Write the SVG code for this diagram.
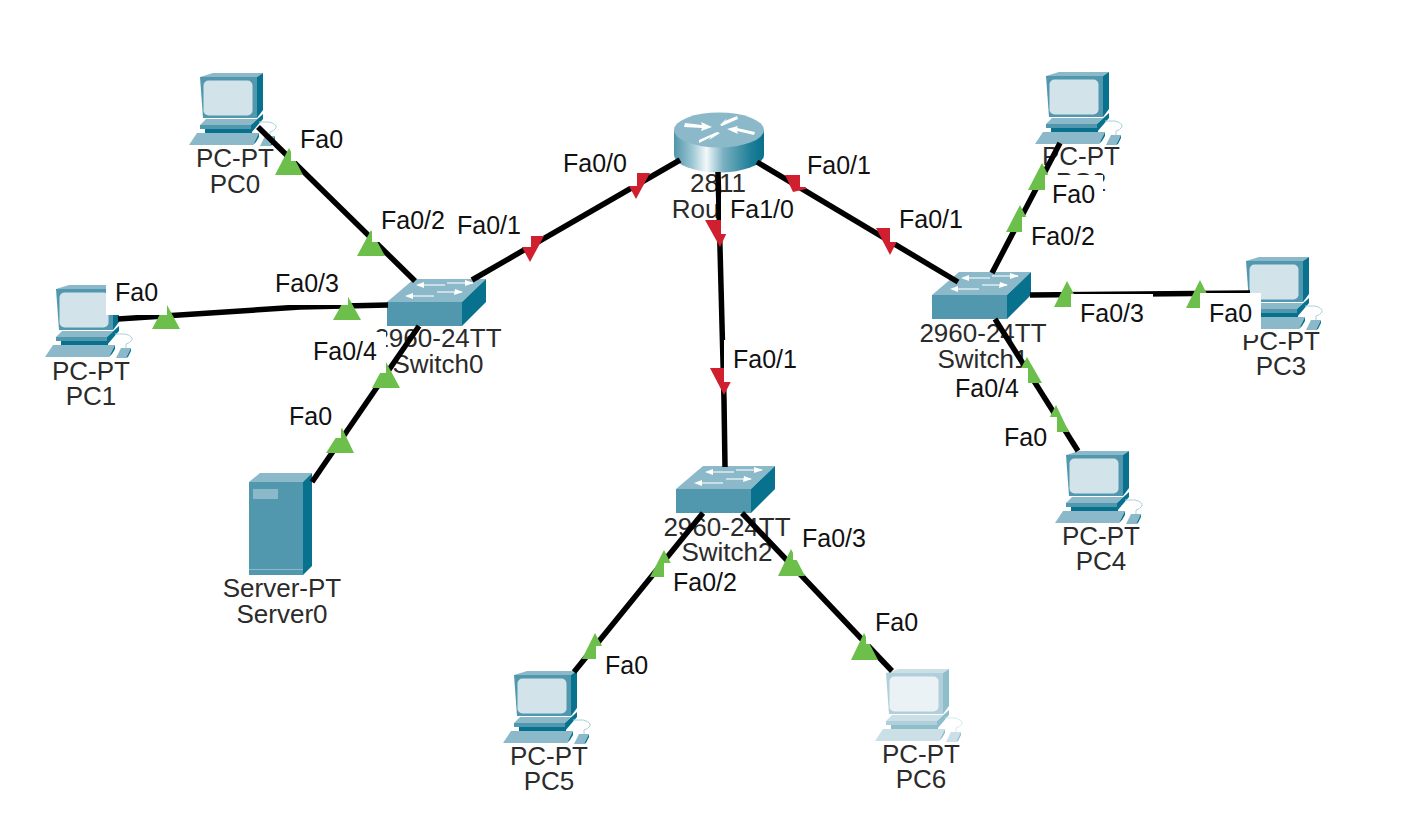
<svg xmlns="http://www.w3.org/2000/svg" xmlns:xlink="http://www.w3.org/1999/xlink" width="1420" height="832" viewBox="0 0 1420 832">
<style>
text{font-family:"Liberation Sans",Arial,sans-serif}
.n{fill:#2b2b2b;text-anchor:middle;font-size:26px}
.p{fill:#111;font-size:25px}
.b{fill:#fff}
.l{fill:none;stroke:#000;stroke-width:5.5}
.g{fill:#6cbf4b}
.r{fill:#d02030}
.f{fill:#5197ae}
.t{fill:#8cb9c9}
.d{fill:#08718e}
</style>
<defs>
<linearGradient id="cyl" x1="0" x2="1" y1="0" y2="0">
<stop offset="0" stop-color="#4f95aa"/><stop offset=".2" stop-color="#9cc6d2"/><stop offset=".36" stop-color="#f2f8fa"/><stop offset=".55" stop-color="#79b0c1"/><stop offset=".85" stop-color="#1f7f98"/><stop offset="1" stop-color="#07708c"/>
</linearGradient>
<g id="pc">
<path class="t" d="M11 4 24 0H74L68 4Z"/>
<path class="f" d="M11 4H68V45H14Z"/>
<path class="d" d="M68 4 74 0V37L68 45Z"/>
<rect x="14.500" y="7.500" width="49" height="35" rx="5" fill="#d3e3ea"/>
<path class="t" d="M11 52 17 46H68L74 41 62 52Z"/>
<rect class="f" x="11" y="52" width="51" height="4"/>
<rect class="d" x="16" y="56" width="47" height="4"/>
<path class="d" d="M62 52 74 41V46L62 60Z"/>
<path class="t" d="M0 72 8 60H70L64 72Z"/>
<path class="d" d="M64 72 70 60V64L67 69Z"/>
<path class="t" d="M71 73 76 63H86L81 73Z"/>
<path class="d" d="M81 73 86 63V66L83 72Z"/>
<path d="M70 49H80Q88 51 87 55 85 58 81 59V63" fill="none" stroke="#a8d0dc" stroke-width="1"/>
</g>
<g id="sw">
<path class="t" d="M0 23 27 0H99L75 23Z"/>
<rect class="f" x="0" y="23" width="75" height="24"/>
<path class="d" d="M75 23 99 0V23L75 47Z"/>
<path d="M31 6H58M86 4H60M20 17H47M75 13H50" stroke="#dcebf0" stroke-width="1.300"/>
<path d="M37 3V9L29 6ZM78 1 87 4 78 7ZM26 14V20L18 17ZM68 10 76 13 67 16Z" fill="#fff"/>
</g>
</defs>

<g id="PC0"><use xlink:href="#pc" href="#pc" x="189" y="73"/><text class="n" x="235" y="167">PC-PT</text><text class="n" x="235" y="193">PC0</text></g>
<g id="PC1"><use xlink:href="#pc" href="#pc" x="45" y="285"/><text class="n" x="91" y="380">PC-PT</text><text class="n" x="91" y="405">PC1</text></g>
<g id="Server0">
<path class="t" d="M249 482 260 473H312L303 482Z"/>
<rect class="f" x="249" y="482" width="54" height="93"/>
<path class="d" d="M303 482 312 473V566L303 575Z"/>
<rect class="t" x="253" y="489" width="25" height="10"/>
<rect x="249" y="569" width="54" height="1" fill="#8cb9c9"/>
<text class="n" x="282" y="597">Server-PT</text><text class="n" x="282" y="623">Server0</text></g>
<g id="Switch0"><use xlink:href="#sw" href="#sw" x="387" y="279"/><text class="n" x="438" y="347">2960-24TT</text><text class="n" x="438" y="373">Switch0</text></g>
<g id="Router0">
<path d="M674 130V155A45 17.500 0 0 0 764 155V130Z" fill="url(#cyl)"/>
<ellipse cx="719" cy="130" rx="45" ry="17.500" fill="#8cb9c9"/>
<path d="M685 123 702 125 701 122 712 127 701 131 702 128 684 127ZM754 135 737 131 738 134 727 129 738 126 737 128 755 132ZM737 116 725 121 727 118 720 125 722 126 738 119ZM699 143 711 137 709 140 720 133 717 132 699 140Z" fill="#fff"/>
<text class="n" x="718" y="192">2811</text><text class="n" x="718" y="218">Router0</text></g>
<g id="Switch1"><use xlink:href="#sw" href="#sw" x="932" y="272"/><text class="n" x="983" y="342">2960-24TT</text><text class="n" x="983" y="368">Switch1</text></g>
<g id="Switch2"><use xlink:href="#sw" href="#sw" x="676" y="466"/><text class="n" x="727" y="536">2960-24TT</text><text class="n" x="727" y="561">Switch2</text></g>
<g id="PC2"><use xlink:href="#pc" href="#pc" x="1035" y="72"/><text class="n" x="1081" y="165">PC-PT</text><text class="n" x="1081" y="191">PC2</text></g>
<g id="PC3"><use xlink:href="#pc" href="#pc" x="1235" y="257"/><text class="n" x="1281" y="350">PC-PT</text><text class="n" x="1281" y="375">PC3</text></g>
<g id="PC4"><use xlink:href="#pc" href="#pc" x="1055" y="451"/><text class="n" x="1101" y="545">PC-PT</text><text class="n" x="1101" y="570">PC4</text></g>
<g id="PC5"><use xlink:href="#pc" href="#pc" x="503" y="671"/><text class="n" x="549" y="765">PC-PT</text><text class="n" x="549" y="790">PC5</text></g>
<g id="PC6"><use xlink:href="#pc" href="#pc" x="875" y="669" opacity=".45"/><text class="n" x="921" y="763">PC-PT</text><text class="n" x="921" y="788">PC6</text></g>

<g id="connectors">
<path class="l" d="M258 127 415 281"/>
<path class="l" d="M118 319 300 307 388 305"/>
<path class="l" d="M312 482 419 326"/>
<path class="l" d="M472 280 680 160"/>
<path class="l" d="M757 162 958 282"/>
<path class="l" d="M718 172 724 400 725 467"/>
<path class="l" d="M992 273 1060 143"/>
<path class="l" d="M1030 295 1250 293"/>
<path class="l" d="M995 319 1078 451"/>
<path class="l" d="M703 513 574 672"/>
<path class="l" d="M742 513 892 671"/>
<g id="port-status">
<polygon class="g" points="289,148 275,175 303,175"/>
<polygon class="g" points="371,230 357,256 385,256"/>
<polygon class="g" points="166,303 152,329 180,329"/>
<polygon class="g" points="347,295 333,320 361,320"/>
<polygon class="g" points="386,362 372,388 400,388"/>
<polygon class="g" points="342,428 326,453 354,453"/>
<polygon class="g" points="1020,205 1006,232 1034,232"/>
<polygon class="g" points="1042,163 1028,190 1056,190"/>
<polygon class="g" points="1067,281 1054,307 1081,307"/>
<polygon class="g" points="1200,280 1186,308 1214,308"/>
<polygon class="g" points="1027,357 1013,383 1042,383"/>
<polygon class="g" points="1056,405 1042,432 1069,432"/>
<polygon class="g" points="664,550 650,577 678,577"/>
<polygon class="g" points="595,633 582,659 609,659"/>
<polygon class="g" points="791,549 778,576 805,576"/>
<polygon class="g" points="864,633 851,660 878,660"/>
<polygon class="r" points="622,173 650,173 636,199"/>
<polygon class="r" points="516,236 544,236 530,262"/>
<polygon class="r" points="705,220 733,220 720,247"/>
<polygon class="r" points="785,175 803,175 806,189 793,192"/>
<polygon class="r" points="876,228 904,228 890,255"/>
<polygon class="r" points="710,368 738,368 724,395"/>
</g>
</g>

<g id="port-labels">
<rect class="b" x="291" y="120" width="61" height="41"/><text class="p" x="300" y="148">Fa0</text>
<rect class="b" x="372" y="201" width="82" height="41"/><text class="p" x="381" y="229">Fa0/2</text>
<rect class="b" x="448" y="206" width="83" height="41"/><text class="p" x="457" y="234">Fa0/1</text>
<rect class="b" x="554" y="144" width="83" height="42"/><text class="p" x="563" y="172">Fa0/0</text>
<rect class="b" x="106" y="272" width="61" height="43"/><text class="p" x="115" y="301">Fa0</text>
<rect class="b" x="266" y="264" width="82" height="41"/><text class="p" x="275" y="292">Fa0/3</text>
<rect class="b" x="304" y="332" width="82" height="41"/><text class="p" x="313" y="360">Fa0/4</text>
<rect class="b" x="280" y="397" width="61" height="41"/><text class="p" x="289" y="425">Fa0</text>
<rect class="b" x="721" y="193" width="82" height="41"/><text class="p" x="730" y="218">Fa1/0</text>
<rect class="b" x="800" y="146" width="82" height="41"/><text class="p" x="807" y="174">Fa0/1</text>
<rect class="b" x="890" y="201" width="82" height="41"/><text class="p" x="899" y="228">Fa0/1</text>
<rect class="b" x="1045" y="175" width="58" height="41"/><text class="p" x="1052" y="203">Fa0</text>
<rect class="b" x="1022" y="217" width="82" height="41"/><text class="p" x="1031" y="245">Fa0/2</text>
<rect class="b" x="1071" y="294" width="82" height="41"/><text class="p" x="1080" y="322">Fa0/3</text>
<rect class="b" x="1200" y="293" width="61" height="42"/><text class="p" x="1209" y="322">Fa0</text>
<rect class="b" x="946" y="368" width="82" height="41"/><text class="p" x="955" y="397">Fa0/4</text>
<rect class="b" x="995" y="417" width="62" height="41"/><text class="p" x="1004" y="446">Fa0</text>
<rect class="b" x="724" y="340" width="82" height="42"/><text class="p" x="733" y="368">Fa0/1</text>
<rect class="b" x="793" y="519" width="82" height="41"/><text class="p" x="802" y="547">Fa0/3</text>
<rect class="b" x="664" y="563" width="82" height="41"/><text class="p" x="673" y="591">Fa0/2</text>
<rect class="b" x="596" y="646" width="61" height="41"/><text class="p" x="605" y="674">Fa0</text>
<rect class="b" x="866" y="603" width="61" height="41"/><text class="p" x="875" y="631">Fa0</text>
</g>
</svg>
